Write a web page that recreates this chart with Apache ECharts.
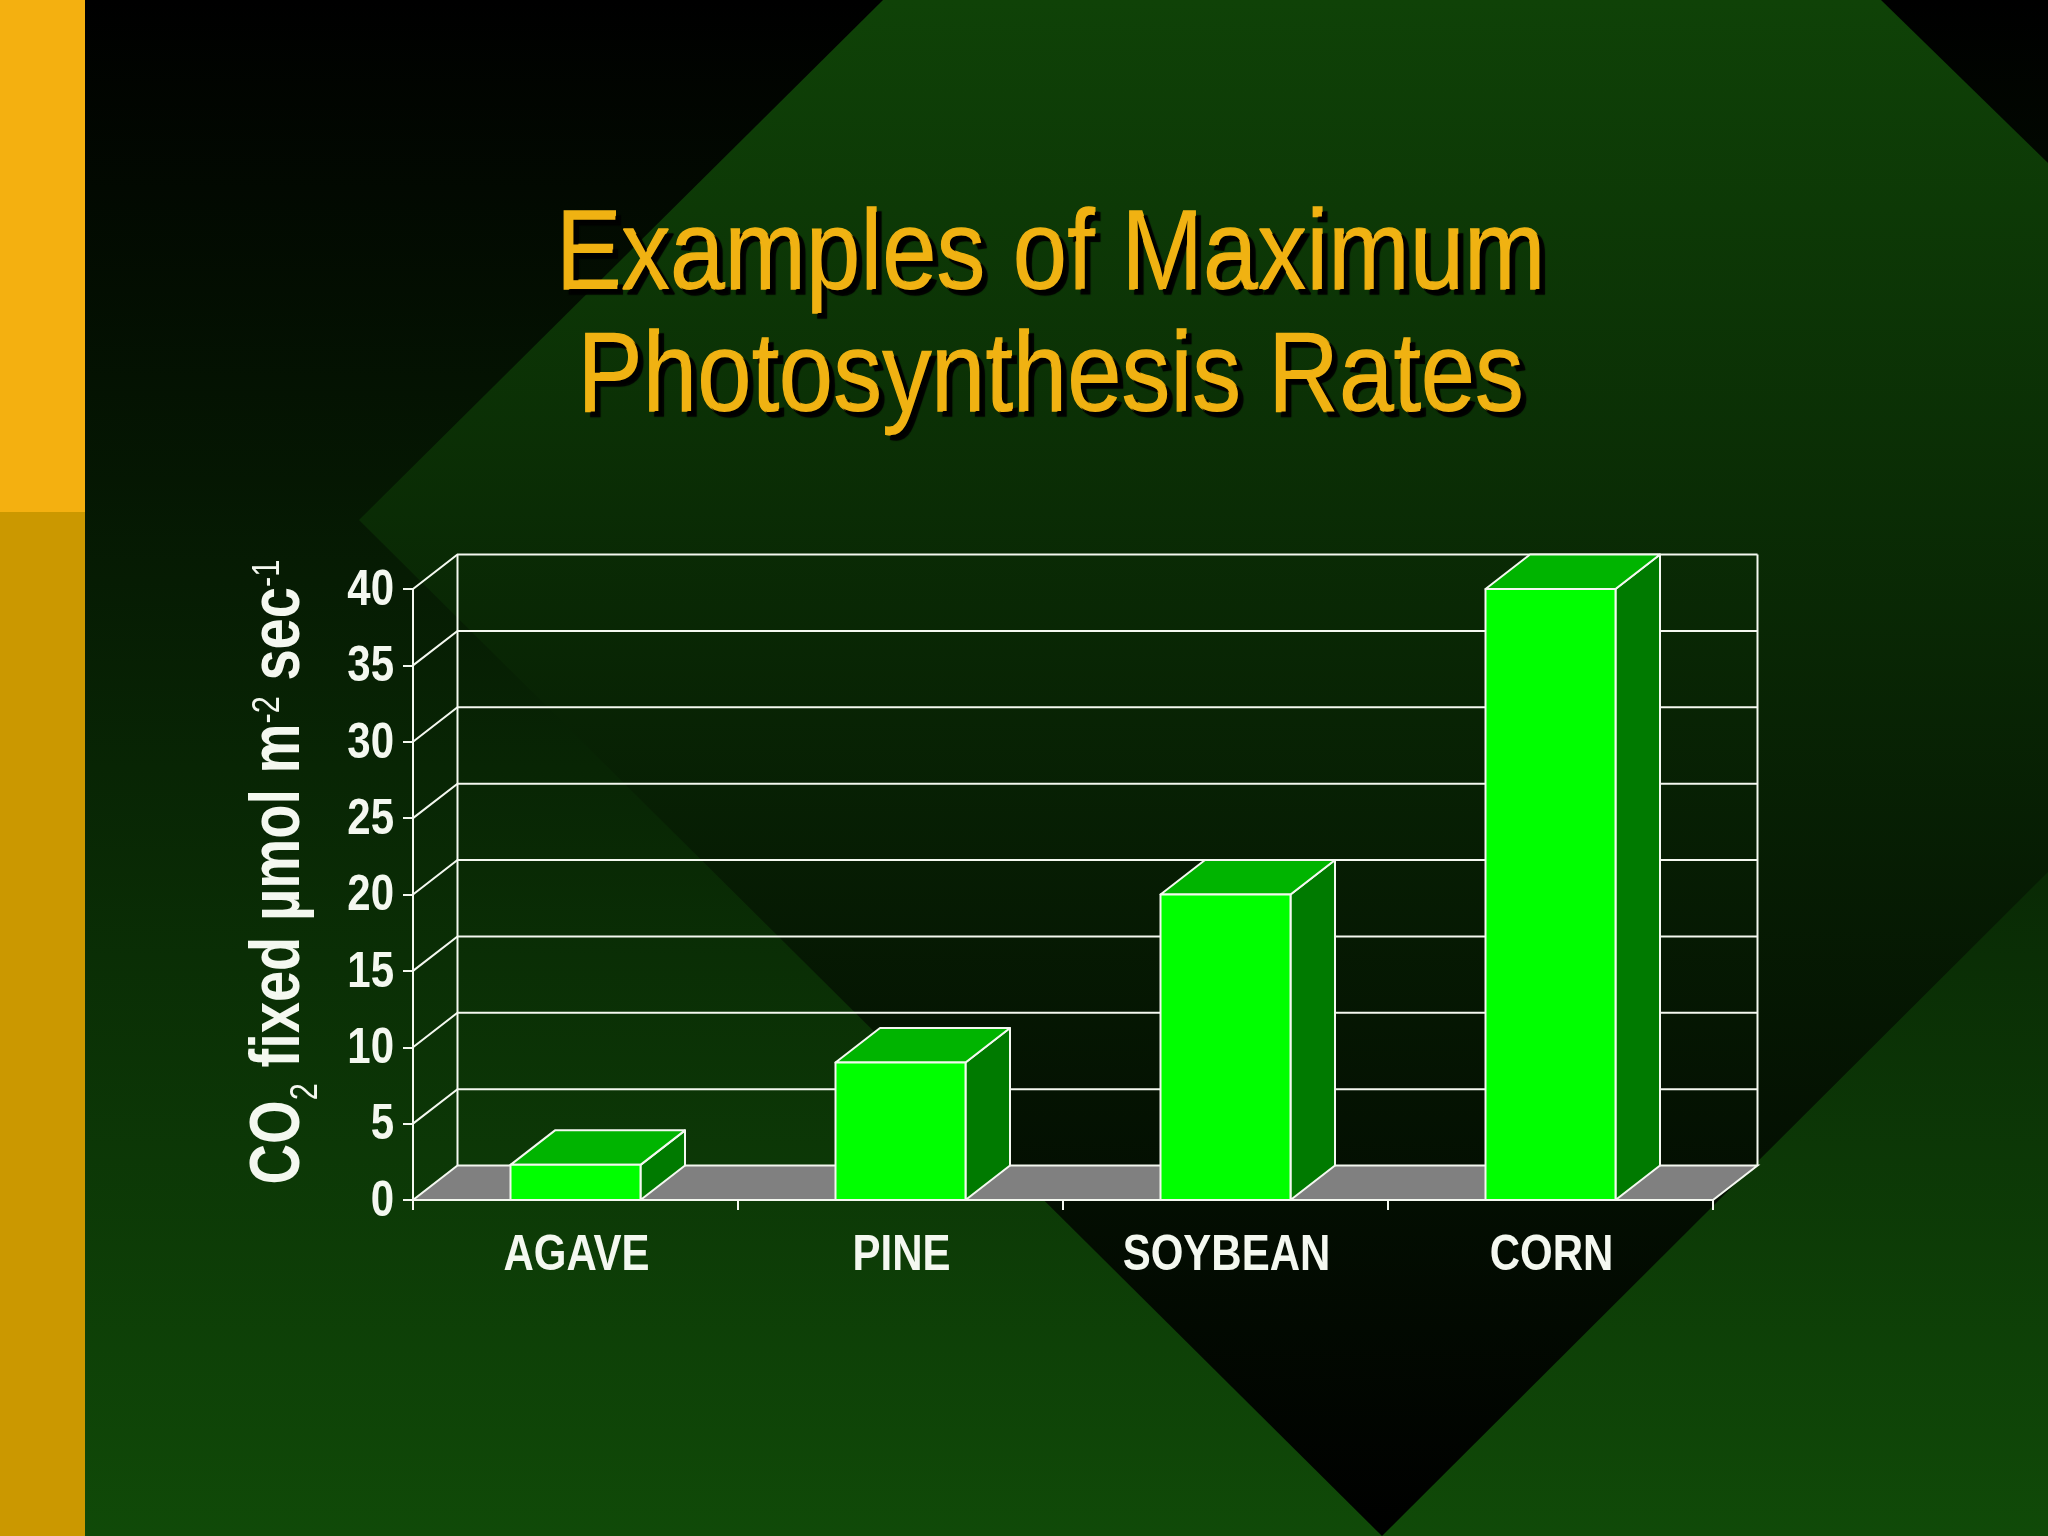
<!DOCTYPE html>
<html>
<head>
<meta charset="utf-8">
<style>html,body{margin:0;padding:0;background:#000}#c{width:2048px;height:1536px}</style>
<script src="https://cdn.jsdelivr.net/npm/echarts@6/dist/echarts.min.js"></script>
</head>
<body>
<div id="c"></div>
<script>
const categories = ['AGAVE', 'PINE', 'SOYBEAN', 'CORN'];
const rates = [2.3, 9, 20, 40];
const yTicks = [0, 5, 10, 15, 20, 25, 30, 35, 40];
const titleLines = ['Examples of Maximum', 'Photosynthesis Rates'];
const yAxisTitle = '{b|CO}{s|2}{b| fixed µmol m}{u|-2}{b| sec}{u|-1}';

const DX = 44.5, DY = 34.5;
const SANS = '"Liberation Sans",Arial,sans-serif';
const WHITE = '#f4f8f0';
const GOLD = '#f0b212';
const line = {stroke: WHITE, lineWidth: 2, fill: null};
const LABEL_FONT = 'bold 50px ' + SANS;

function wallItem(params, api) {
  const c = params.coordSys;
  const v = api.value(0);
  const y = api.coord([0, v])[1];
  const x0 = c.x, x1 = c.x + c.width;
  const children = [];
  if (v === 0) {
    children.push({type: 'polygon', shape: {points: [[x0, y], [x1, y], [x1 + DX, y - DY], [x0 + DX, y - DY]]},
      style: {fill: '#808080', stroke: WHITE, lineWidth: 2}});
    const top = api.coord([0, yTicks[yTicks.length - 1]])[1] - DY;
    children.push({type: 'line', shape: {x1: x0 + DX, y1: y - DY, x2: x0 + DX, y2: top}, style: line});
    children.push({type: 'line', shape: {x1: x1 + DX, y1: y - DY, x2: x1 + DX, y2: top}, style: line});
  } else {
    children.push({type: 'polyline', shape: {points: [[x0, y], [x0 + DX, y - DY], [x1 + DX, y - DY]]}, style: line});
  }
  children.push({type: 'text', x: x0 - 19, y: y + 2, scaleX: 0.84,
    style: {text: String(v), font: LABEL_FONT, fill: WHITE, textAlign: 'right', textVerticalAlign: 'middle'}});
  return {type: 'group', children};
}

function barItem(params, api) {
  const base = api.coord([api.value(0), 0]);
  const top = api.coord([api.value(0), api.value(1)]);
  const w = api.size([1, 0])[0] * 0.4;
  const l = base[0] - w / 2, r = base[0] + w / 2, b = base[1], t = top[1];
  const st = {stroke: WHITE, lineWidth: 2, lineJoin: 'round'};
  return {type: 'group', children: [
    {type: 'polygon', shape: {points: [[r, b], [r + DX, b - DY], [r + DX, t - DY], [r, t]]},
      style: Object.assign({fill: '#007a00'}, st)},
    {type: 'polygon', shape: {points: [[l, t], [r, t], [r + DX, t - DY], [l + DX, t - DY]]},
      style: Object.assign({fill: '#00b400'}, st)},
    {type: 'rect', shape: {x: l, y: t, width: w, height: b - t},
      style: Object.assign({fill: '#00ff00'}, st)},
    {type: 'text', x: base[0] + 1, y: b + 56.5, scaleX: 0.84,
      style: {text: categories[api.value(0)], font: LABEL_FONT, fill: WHITE, textAlign: 'center', textVerticalAlign: 'middle'}}
  ]};
}

const grad = (stops) => ({type: 'linear', x: 0, y: 0, x2: 0, y2: 1,
  colorStops: stops.map((c, i) => ({offset: i / (stops.length - 1), color: c}))});

const titleText = (text, y) => ({
  type: 'text', x: 1051, y, scaleX: 0.866, z: 5,
  style: {text, font: '113px ' + SANS, fill: GOLD, stroke: GOLD, lineWidth: 1.5,
    textAlign: 'center', textVerticalAlign: 'middle',
    textShadowColor: '#000', textShadowBlur: 1, textShadowOffsetX: 5, textShadowOffsetY: 5}
});

const chart = echarts.init(document.getElementById('c'), null, {renderer: 'canvas', width: 2048, height: 1536});
chart.setOption({
  animation: false,
  graphic: {elements: [
    {type: 'rect', z: -20, shape: {x: 0, y: 0, width: 2048, height: 1536},
      style: {fill: grad(['#000000', '#104a08'])}},
    {type: 'polygon', z: -19,
      shape: {points: [[883, 0], [1881, 0], [2048, 163], [2048, 872], [1382, 1536], [359, 520]]},
      style: {fill: grad(['#0f4207', '#000000'])}},
    {type: 'rect', z: -18, shape: {x: 0, y: 0, width: 85, height: 512}, style: {fill: '#f4b010'}},
    {type: 'rect', z: -18, shape: {x: 0, y: 512, width: 85, height: 1024}, style: {fill: '#cb9800'}},
    titleText(titleLines[0], 258),
    titleText(titleLines[1], 380),
    {type: 'text', x: 279, y: 872, rotation: Math.PI / 2, scaleX: 0.79, z: 5,
      style: {
        text: yAxisTitle, fill: WHITE, textAlign: 'center', textVerticalAlign: 'middle',
        rich: {
          b: {fontFamily: SANS, fontWeight: 'bold', fontSize: 71, fill: WHITE, lineHeight: 90},
          s: {fontFamily: SANS, fontSize: 39, fill: WHITE, lineHeight: 90, padding: [54, 0, 0, 0]},
          u: {fontFamily: SANS, fontSize: 39, fill: WHITE, lineHeight: 90, padding: [0, 0, 22, 0]}
        }
      }}
  ]},
  grid: {left: 413, right: 335, top: 589, bottom: 336, containLabel: false},
  xAxis: {
    type: 'category', data: categories,
    axisLine: {show: true, lineStyle: {color: WHITE, width: 2}},
    axisTick: {show: true, length: 10, alignWithLabel: false, lineStyle: {color: WHITE, width: 2}},
    axisLabel: {show: false},
    splitLine: {show: false}
  },
  yAxis: {
    type: 'value', min: 0, max: 40, interval: 5,
    axisLine: {show: true, lineStyle: {color: WHITE, width: 2}},
    axisTick: {show: true, length: 10, lineStyle: {color: WHITE, width: 2}},
    axisLabel: {show: false},
    splitLine: {show: false}
  },
  series: [
    {type: 'custom', name: 'walls', coordinateSystem: 'cartesian2d', silent: true, z: 1,
      data: yTicks.map(v => [v]), encode: {y: 0}, renderItem: wallItem},
    {type: 'custom', name: 'CO2 fixed', coordinateSystem: 'cartesian2d', silent: true, z: 3,
      data: rates.map((v, i) => [i, v]), encode: {x: 0, y: 1}, renderItem: barItem}
  ]
});
</script>
</body>
</html>
